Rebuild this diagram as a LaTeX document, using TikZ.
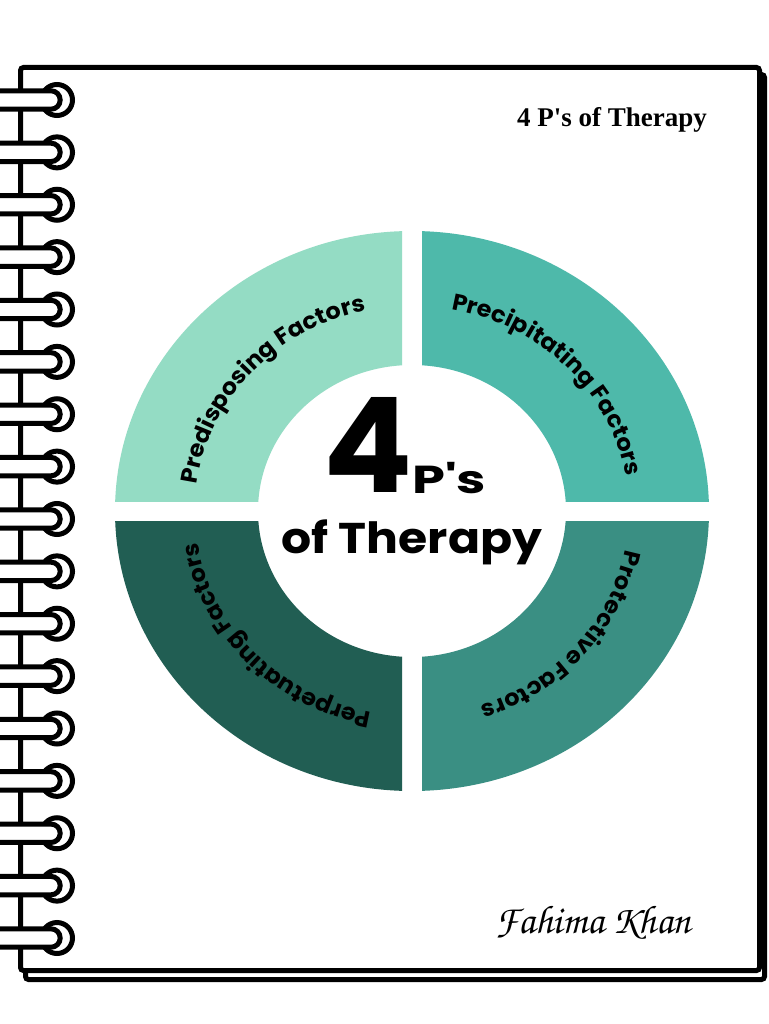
\documentclass[tikz,border=0pt]{standalone}
\usepackage{fontspec}
\setsansfont{Poppins}[Ligatures=TeXOff]
\newfontfamily\arcsans{Poppins}[Ligatures=TeXOff, FakeStretch=1.04]
\newfontfamily\widesans{Poppins}[Ligatures=TeXOff, FakeStretch=1.1]
\newfontfamily\widersans{Poppins}[Ligatures=TeXOff, FakeStretch=1.35]
\newfontfamily\titlefont{Liberation Serif}[Ligatures=TeXOff]
\newfontfamily\signfont{TeX Gyre Chorus}
\usepackage{xcolor}
\usetikzlibrary{calc, decorations.text}

\definecolor{quadA}{RGB}{148,220,196}
\definecolor{quadB}{RGB}{78,185,170}
\definecolor{quadC}{RGB}{58,143,131}
\definecolor{quadD}{RGB}{33,94,83}
\newcommand{\labelfont}{\arcsans\bfseries\fontsize{23}{26}\selectfont}

\begin{document}
\begin{tikzpicture}[x=1pt, y=-1pt,
		pageline/.style={line width=5pt, fill=white, rounded corners=3pt},
		ringline/.style={line width=5pt, fill=white},
		arclabel/.style={decorate, decoration={text along path, text align=center, text={#1}}}]
	\useasboundingbox (0,0) rectangle (768,1024);
	% sheets
	\draw[pageline] (25.5,74.5) rectangle (764.5,979.5);
	\draw[pageline] (20.5,67.5) rectangle (759.5,970.5);
	% spiral binding
	\foreach \k in {0,...,16}{
		\pgfmathsetmacro{\ry}{100+52.375*\k}
		\draw[ringline] (57,\ry) circle[radius=15.5];
		\draw[ringline] (-10,\ry-9.2) -- (51,\ry-9.2) arc[start angle=-90, end angle=90, radius=9.2] -- (-10,\ry+9.2) -- cycle;
	}
	\node[font=\titlefont\bfseries\fontsize{27}{30}\selectfont, anchor=base east, inner sep=0] (title) at (707,127) {4 P's of Therapy};
	% the four quarters
	\coordinate (ctr) at (412,511);
	\foreach \ax/\ay/\bx/\by/\qc in {0/0/402/501/quadA, 422/0/768/501/quadB, 422/521/768/1024/quadC, 0/521/402/1024/quadD}{
		\begin{scope}
			\clip (\ax,\ay) rectangle (\bx,\by);
			\fill[\qc, even odd rule] (ctr) ellipse[x radius=297, y radius=280] (ctr) ellipse[x radius=154, y radius=146];
		\end{scope}
	}
	\path[arclabel={|\labelfont|Predisposing Factors}] ($(ctr)+(-177.5:217 and 205)$) arc[start angle=-177.5, end angle=-97.5, x radius=217, y radius=205];
	\path[arclabel={|\labelfont|Precipitating Factors}] ($(ctr)+(-84.5:217 and 205)$) arc[start angle=-84.5, end angle=-4.5, x radius=217, y radius=205];
	\path[arclabel={|\labelfont|Protective Factors}] ($(ctr)+(1:217 and 205)$) arc[start angle=1, end angle=81, x radius=217, y radius=205];
	\path[arclabel={|\labelfont|Perpetuating Factors}] ($(ctr)+(96:217 and 205)$) arc[start angle=96, end angle=176, x radius=217, y radius=205];
	% centre
	\node[font=\sffamily\bfseries\fontsize{132}{132}\selectfont, anchor=base, inner sep=0] (four) at (368,492) {4};
	\node[font=\widersans\bfseries\fontsize{39}{40}\selectfont, anchor=base west, inner sep=0] (ps) at (412,493) {P's};
	\node[font=\widesans\bfseries\fontsize{43}{50}\selectfont, anchor=base, inner sep=0] (ofth) at (412,553) {of Therapy};
	\node[font=\signfont\fontsize{40}{44}\selectfont, anchor=base west, inner sep=0] (sig) at (495,933) {Fahima\hspace{8pt}Khan};
\end{tikzpicture}
\end{document}
